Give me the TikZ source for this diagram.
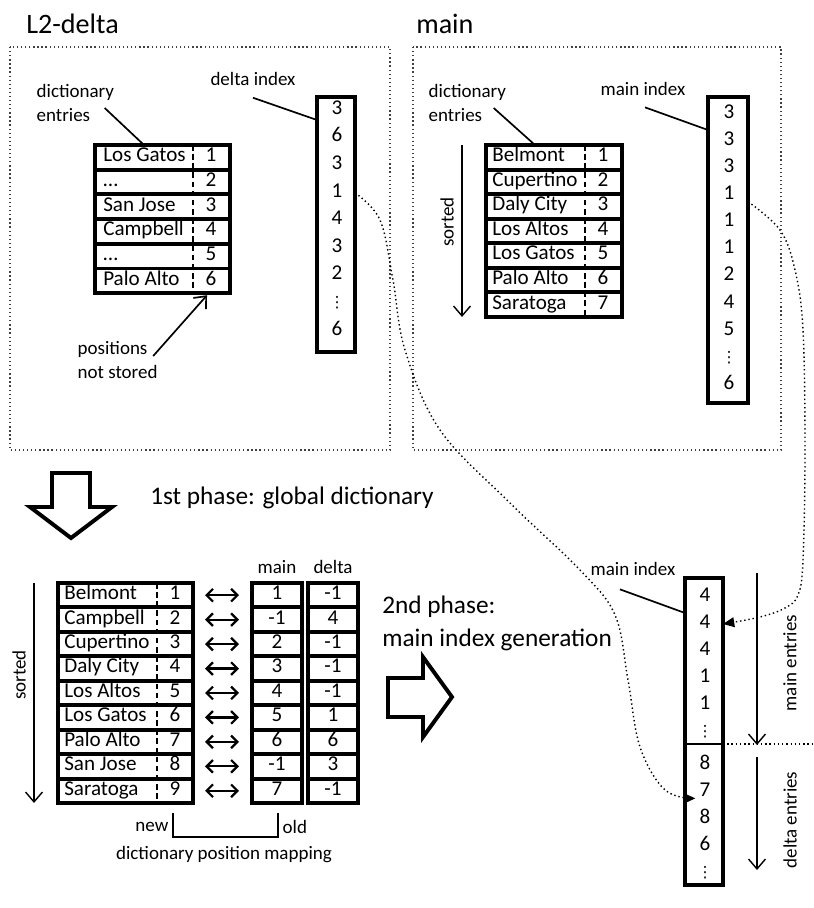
\documentclass[tikz,border=0pt]{standalone}
\usepackage{fontspec}
\setmainfont{Carlito}
\newfontfamily\symfont{DejaVu Sans}
\usetikzlibrary{arrows.meta}

\tikzset{
  heading/.style={anchor=west, inner sep=0pt, font=\fontsize{20}{24}\selectfont},
  dotbox/.style={draw=black!75, dotted, line width=0.9pt},
  rowbox/.style={draw, line width=2.8pt, anchor=north west, inner sep=0pt, outer sep=0pt},
  cell/.style={inner sep=0pt, font=\fontsize{15}{18}\selectfont, text height=1.55ex, text depth=.25ex},
  city/.style={cell, anchor=west},
  lbl/.style={inner sep=1pt, font=\fontsize{13.5}{16.5}\selectfont},
  phase/.style={anchor=west, inner sep=0pt, align=left, font=\fontsize{18}{23.5}\selectfont},
  divider/.style={line width=0.9pt, dash pattern=on 4pt off 2.5pt},
  pointer/.style={line width=1.2pt},
  sortarrow/.style={line width=1pt, -{Straight Barb[length=7pt,width=12pt]}},
  maparrow/.style={line width=1.6pt, {Straight Barb[length=4.5pt,width=9pt]}-{Straight Barb[length=4.5pt,width=9pt]}},
  link/.style={dotted, line width=1pt, -{Triangle[length=8pt,width=7pt]}},
  hollow/.style={draw, line width=2.8pt, line join=miter},
}
\newcommand{\vdot}{{\symfont\fontsize{11}{11}\selectfont ⋮}}

\begin{document}
\begin{tikzpicture}[x=0.025cm, y=-0.025cm]
\useasboundingbox (0,0) rectangle (814,908);
% headings and dotted frames
\node[heading] (tdelta) at (26,24) {L2-delta};
\node[heading] (tmain) at (416,24) {main};
\draw[dotbox] (10,47) rectangle (390,450);
\draw[dotbox] (413,47) rectangle (781,450);

% L2-delta dictionary
\foreach \city/\pos [count=\i] in {Los Gatos/1,\ldots/2,San Jose/3,Campbell/4,\ldots/5,Palo Alto/6}{
  \node[rowbox, minimum width=3.375cm, minimum height=0.6175cm] (dr\i) at (95,{145+24.7*(\i-1)}) {};
  \node[city] (dc\i) at ([xshift=0.2cm]dr\i.west) {\city};
  \node[cell] (dp\i) at (211,{145+24.7*(\i-.5)}) {\pos};
}
\draw[divider] (193,145) -- (193,293);
\node[lbl, align=left, anchor=west] (dlab) at (35,103) {dictionary\\entries};
\draw[pointer] ([shift={(-11,5)}]dlab.east) -- ([xshift=1.225cm]dr1.north west);
\node[lbl, align=left, anchor=west] (plab) at (76,360) {positions\\not stored};
\draw[pointer, -{Straight Barb[length=7pt,width=12pt]}] ([shift={(-6,-4)}]plab.east) -- ([xshift=2.8cm,yshift=-0.05cm]dr6.south west);

% delta index
\node[rowbox, minimum width=0.95cm, minimum height=6.375cm] (dcol) at (317,97) {};
\foreach \v [count=\i] in {3,6,3,1,4,3,2,\vdot,6}
  \node[cell] (dv\i) at (337,{110+27.6*(\i-1)}) {\v};
\node[lbl] (dilab) at (253,79) {delta index};
\draw[pointer] ([yshift=-0.26cm]dilab.south) -- ([yshift=-0.575cm]dcol.north west);

% main dictionary
\foreach \city/\pos [count=\i] in {Belmont/1,Cupertino/2,Daly City/3,Los Altos/4,Los Gatos/5,Palo Alto/6,Saratoga/7}{
  \node[rowbox, minimum width=3.4cm, minimum height=0.614cm] (mr\i) at (486,{145+24.57*(\i-1)}) {};
  \node[city] (mc\i) at ([xshift=0.15cm]mr\i.west) {\city};
  \node[cell] (mp\i) at (603,{145+24.57*(\i-.5)}) {\pos};
}
\draw[divider] (585,145) -- (585,317);
\node[lbl, align=left, anchor=west] (mlab) at (427,103) {dictionary\\entries};
\draw[pointer] ([shift={(-14,5)}]mlab.east) -- ([xshift=1.225cm]mr1.north west);
\node[lbl, rotate=90] (msort) at (447,222) {sorted};
\draw[sortarrow] ([xshift=-0.6cm]mr1.north west) -- ([xshift=-0.6cm]mr7.south west);

% main index
\node[rowbox, minimum width=1cm, minimum height=7.65cm] (mcol) at (708,97) {};
\foreach \v [count=\i] in {3,3,3,1,1,1,2,4,5,\vdot,6}
  \node[cell] (mv\i) at (729,{114+27.1*(\i-1)}) {\v};
\node[lbl] (milab) at (643,89) {main index};
\draw[pointer] ([shift={(2,10)}]milab.south) -- ([yshift=-0.825cm]mcol.north west);

% 1st phase
\draw[hollow] (52,473) -- (90,473) -- (90,507) -- (112,507) -- (71,538) -- (30,507) -- (52,507) -- cycle;
\node[phase] (p1) at (150,498) {1st phase: global dictionary};

% global dictionary and mapping
\node[lbl] (hmain) at (277,567) {main};
\node[lbl] (hdelta) at (333,567) {delta};
\foreach \city/\new/\old/\dl [count=\i] in {Belmont/1/1/-1,Campbell/2/-1/4,Cupertino/3/2/-1,Daly City/4/3/-1,Los Altos/5/4/-1,Los Gatos/6/5/1,Palo Alto/7/6/6,San Jose/8/-1/3,Saratoga/9/7/-1}{
  \node[rowbox, minimum width=3.375cm, minimum height=0.611cm] (gr\i) at (58,{583+24.44*(\i-1)}) {};
  \node[city] (gc\i) at ([xshift=0.15cm]gr\i.west) {\city};
  \node[cell] (gp\i) at (175,{583+24.44*(\i-.5)}) {\new};
  \node[rowbox, minimum width=1.25cm, minimum height=0.611cm] (gm\i) at (252,{583+24.44*(\i-1)}) {};
  \node[cell] (go\i) at (gm\i) {\old};
  \node[rowbox, minimum width=1.25cm, minimum height=0.611cm] (gd\i) at (308,{583+24.44*(\i-1)}) {};
  \node[cell] (gv\i) at (gd\i) {\dl};
  \draw[maparrow, shorten <=0.3cm, shorten >=0.325cm] (gr\i.east) -- (gm\i.west);
}
\draw[divider] (157,583) -- (157,803);
\node[lbl, rotate=90] (gsort) at (19,675) {sorted};
\draw[sortarrow] ([xshift=-0.6cm]gr1.north west) -- ([xshift=-0.6cm]gr9.south west);
\coordinate (bnew) at (173,813);
\coordinate (bold) at (278,813);
\draw[pointer] (bnew) -- ++(0,24) -| (bold);
\node[lbl, anchor=east] (lnew) at (170,827) {new};
\node[lbl, anchor=west] (lold) at (281,827) {old};
\node[lbl] (lmap) at (224,855) {dictionary position mapping};

% 2nd phase
\node[phase] (p2) at (382,623) {2nd phase:\\main index generation};
\draw[hollow] (388,678) -- (423,678) -- (423,657) -- (452,697) -- (423,737) -- (423,717) -- (388,717) -- cycle;

% generated main index
\node[rowbox, minimum width=0.95cm, minimum height=7.675cm] (rcol) at (685,578) {};
\foreach \v [count=\i] in {4,4,4,1,1,\vdot}
  \node[cell] (rv\i) at (705,{597+27*(\i-1)}) {\v};
\foreach \v [count=\i from 7] in {8,7,8,6,\vdot}
  \node[cell] (rv\i) at (705,{765+27*(\i-7)}) {\v};
\draw[line width=0.8pt] (685,744) -- (723,744);
\draw[dotted, line width=1pt] (723,744) -- (814,744);
\node[lbl] (rilab) at (633,569) {main index};
\draw[pointer] ([shift={(-13,12)}]rilab.south) -- ([yshift=-0.875cm]rcol.north west);
\draw[sortarrow] (757,573) -- (757,745);
\node[lbl, rotate=90] (rmain) at (790,663) {main entries};
\draw[sortarrow] (757,757) -- (757,870);
\node[lbl, rotate=90] (rdelta) at (790,820) {delta entries};

% dotted links
\draw[link] plot[smooth, tension=0.6] coordinates {(dcol.east |- dv4) (380,220) (393,280) (405,350) (440,430) (510,503) (580,570) (615,615) (628,680) (640,747) (665,790) ([xshift=-0.1cm]rv8.south west)};
\draw[link] plot[smooth, tension=0.6] coordinates {(mcol.east |- mv4.south) (780,230) (795,270) (803,330) (805,450) (803,560) (798,595) (785,608) (760,617) (rcol.east |- rv2)};
\end{tikzpicture}
\end{document}
